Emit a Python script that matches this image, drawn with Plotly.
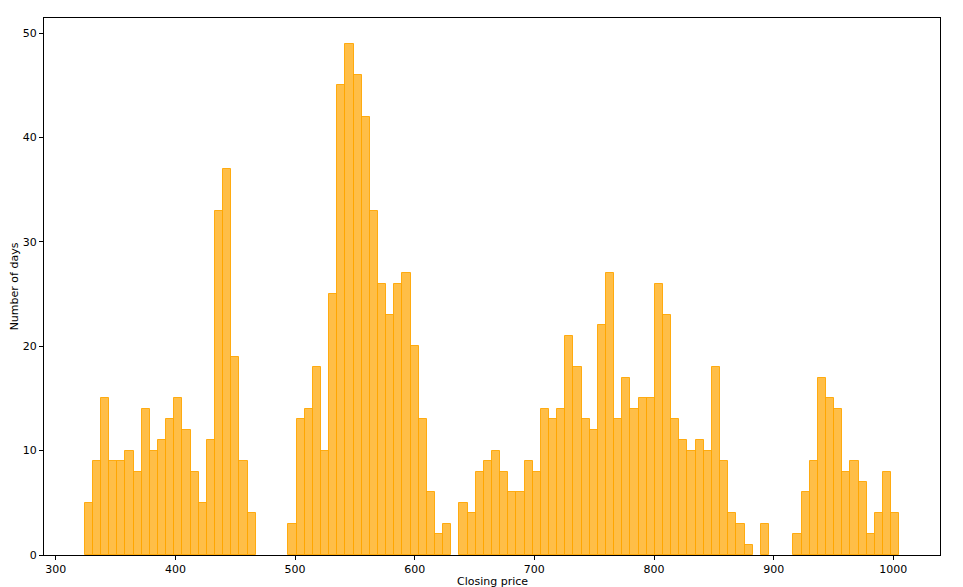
import plotly.graph_objects as go

# histogram of closing prices, 100 equal bins between min and max
price_min = 324.2
price_max = 1005.0
counts = [
    5, 9, 15, 9, 9, 10, 8, 14, 10, 11,
    13, 15, 12, 8, 5, 11, 33, 37, 19, 9,
    4, 0, 0, 0, 0, 3, 13, 14, 18, 10,
    25, 45, 49, 46, 42, 33, 26, 23, 26, 27,
    20, 13, 6, 2, 3, 0, 5, 4, 8, 9,
    10, 8, 6, 6, 9, 8, 14, 13, 14, 21,
    18, 13, 12, 22, 27, 13, 17, 14, 15, 15,
    26, 23, 13, 11, 10, 11, 10, 18, 9, 4,
    3, 1, 0, 3, 0, 0, 0, 2, 6, 9,
    17, 15, 14, 8, 9, 7, 2, 4, 8, 4,
]
x_ticks = [300, 400, 500, 600, 700, 800, 900, 1000]
y_ticks = [0, 10, 20, 30, 40, 50]

n_bins = len(counts)
bin_w = (price_max - price_min) / n_bins
centers = [price_min + bin_w * (i + 0.5) for i in range(n_bins)]
# empty bins draw nothing
xs = [c for c, n in zip(centers, counts) if n > 0]
ys = [n for n in counts if n > 0]

fig = go.Figure()
fig.add_trace(go.Bar(
    x=xs,
    y=ys,
    width=bin_w,
    marker=dict(color="rgba(255,165,0,0.72)", line=dict(color="rgba(255,165,0,0.9)", width=1)),
    showlegend=False,
))

pad = (price_max - price_min) * 0.05
axis_font = dict(family="DejaVu Sans", size=11, color="black")
# the page body adds an 8px offset, margins below make up for it
fig.update_layout(
    width=963,
    height=587,
    margin=dict(l=36, r=31, t=10, b=40),
    paper_bgcolor="white",
    plot_bgcolor="white",
    bargap=0,
    font=axis_font,
    xaxis=dict(
        range=[price_min - pad, price_max + pad],
        tickvals=x_ticks,
        ticks="outside", ticklen=4, tickcolor="black",
        showline=True, linecolor="black", linewidth=1, mirror=True,
        showgrid=False, zeroline=False, automargin=False,
    ),
    yaxis=dict(
        range=[0, max(counts) * 1.05],
        tickvals=y_ticks,
        ticks="outside", ticklen=4, tickcolor="black",
        showline=True, linecolor="black", linewidth=1, mirror=True,
        showgrid=False, zeroline=False, automargin=False,
        title=dict(text="Number of days", font=axis_font, standoff=6),
    ),
)
# x title placed by hand so it stays inside the window
fig.add_annotation(
    text="Closing price", xref="paper", yref="paper", x=0.5, y=0,
    xanchor="center", yanchor="top", yshift=-18, showarrow=False, font=axis_font,
)

fig.write_html("out.html")
